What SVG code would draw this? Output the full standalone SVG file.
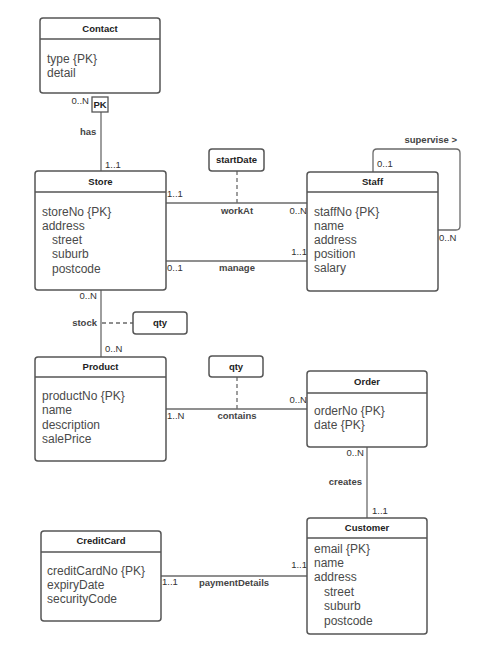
<svg xmlns="http://www.w3.org/2000/svg" width="494" height="645" viewBox="0 0 494 645">
<style>
.box{fill:#fff;stroke:#555;stroke-width:1.5}
.sep{stroke:#555;stroke-width:1.5}
.ln{fill:none;stroke:#6a6a6a;stroke-width:1.3}
.dash{fill:none;stroke:#6a6a6a;stroke-width:1.3;stroke-dasharray:4 3}
.t{font-family:"Liberation Sans",Arial,sans-serif;font-size:9.5px;font-weight:bold;fill:#222;text-anchor:middle}
.a{font-family:"Liberation Sans",Arial,sans-serif;font-size:12px;fill:#4a4a4a}
.c{font-family:"Liberation Sans",Arial,sans-serif;font-size:9.5px;fill:#333}
.r{font-family:"Liberation Sans",Arial,sans-serif;font-size:9.5px;font-weight:bold;fill:#444}
</style>
<rect width="494" height="645" fill="#fff"/>
<g id="connectors">
<path class="ln" d="M101 112 V171"/>
<path class="ln" d="M166 203 H307"/>
<path class="dash" d="M237 171 V203"/>
<path class="ln" d="M166 261 H307"/>
<path class="ln" d="M373 172 V153 Q373 149 377 149 H456 Q460 149 460 153 V226 Q460 230 456 230 H438"/>
<path class="ln" d="M101 290 V357"/>
<path class="dash" d="M102 323 H133"/>
<path class="ln" d="M166 409 H307"/>
<path class="dash" d="M237 377 V409"/>
<path class="ln" d="M367 447 V518"/>
<path class="ln" d="M161 576 H307"/>
<text class="c" x="89" y="104" text-anchor="end">0..N</text>
<text class="r" x="80" y="135">has</text>
<text class="c" x="105" y="168">1..1</text>
<text class="c" x="167" y="197">1..1</text>
<text class="r" x="237" y="214" text-anchor="middle">workAt</text>
<text class="c" x="307" y="214" text-anchor="end">0..N</text>
<text class="c" x="307" y="255" text-anchor="end">1..1</text>
<text class="c" x="167" y="271">0..1</text>
<text class="r" x="237" y="271" text-anchor="middle">manage</text>
<text class="r" x="457" y="143" text-anchor="end">supervise &gt;</text>
<text class="c" x="377" y="167">0..1</text>
<text class="c" x="439" y="241">0..N</text>
<text class="c" x="97" y="299" text-anchor="end">0..N</text>
<text class="r" x="97" y="326" text-anchor="end">stock</text>
<text class="c" x="105" y="352">0..N</text>
<text class="c" x="167" y="419">1..N</text>
<text class="r" x="237" y="419" text-anchor="middle">contains</text>
<text class="c" x="307" y="403" text-anchor="end">0..N</text>
<text class="c" x="364" y="456" text-anchor="end">0..N</text>
<text class="r" x="362" y="485" text-anchor="end">creates</text>
<text class="c" x="372" y="514">1..1</text>
<text class="c" x="307" y="568" text-anchor="end">1..1</text>
<text class="c" x="162" y="585">1..1</text>
<text class="r" x="234" y="586" text-anchor="middle">paymentDetails</text>
</g>
<g id="pk">
<rect x="92" y="97" width="16" height="15" fill="#fff" stroke="#555" stroke-width="1.3"/>
<text class="t" x="100" y="108">PK</text>
</g>
<g id="contact">
<rect class="box" x="40" y="18" width="120" height="75" rx="3"/>
<line class="sep" x1="40" y1="39" x2="160" y2="39"/>
<text class="t" x="100" y="32">Contact</text>
<text class="a" x="47" y="63">type {PK}</text>
<text class="a" x="47" y="77">detail</text>
</g>
<g id="startDate">
<rect class="box" x="209" y="149" width="55" height="22" rx="3"/>
<text class="t" x="236.500" y="163">startDate</text>
</g>
<g id="store">
<rect class="box" x="35" y="171" width="131" height="119" rx="3"/>
<line class="sep" x1="35" y1="192" x2="166" y2="192"/>
<text class="t" x="100.500" y="185">Store</text>
<text class="a" x="42" y="216">storeNo {PK}</text>
<text class="a" x="42" y="230">address</text>
<text class="a" x="52" y="244">street</text>
<text class="a" x="52" y="258">suburb</text>
<text class="a" x="52" y="273">postcode</text>
</g>
<g id="staff">
<rect class="box" x="307" y="172" width="131" height="119" rx="3"/>
<line class="sep" x1="307" y1="192" x2="438" y2="192"/>
<text class="t" x="372.500" y="185">Staff</text>
<text class="a" x="314" y="216">staffNo {PK}</text>
<text class="a" x="314" y="230">name</text>
<text class="a" x="314" y="244">address</text>
<text class="a" x="314" y="258">position</text>
<text class="a" x="314" y="272">salary</text>
</g>
<g id="qty1">
<rect class="box" x="133" y="312" width="54" height="22" rx="3"/>
<text class="t" x="160" y="326">qty</text>
</g>
<g id="product">
<rect class="box" x="35" y="357" width="131" height="104" rx="3"/>
<line class="sep" x1="35" y1="377" x2="166" y2="377"/>
<text class="t" x="100.500" y="370">Product</text>
<text class="a" x="42" y="400">productNo {PK}</text>
<text class="a" x="42" y="414">name</text>
<text class="a" x="42" y="429">description</text>
<text class="a" x="42" y="443">salePrice</text>
</g>
<g id="qty2">
<rect class="box" x="209" y="356" width="54" height="21" rx="3"/>
<text class="t" x="236" y="370">qty</text>
</g>
<g id="order">
<rect class="box" x="307" y="371" width="120" height="76" rx="3"/>
<line class="sep" x1="307" y1="393" x2="427" y2="393"/>
<text class="t" x="367" y="385">Order</text>
<text class="a" x="314" y="415">orderNo {PK}</text>
<text class="a" x="314" y="429">date {PK}</text>
</g>
<g id="customer">
<rect class="box" x="307" y="518" width="120" height="116" rx="3"/>
<line class="sep" x1="307" y1="538" x2="427" y2="538"/>
<text class="t" x="367" y="531">Customer</text>
<text class="a" x="314" y="553">email {PK}</text>
<text class="a" x="314" y="567">name</text>
<text class="a" x="314" y="581">address</text>
<text class="a" x="324" y="596">street</text>
<text class="a" x="324" y="610">suburb</text>
<text class="a" x="324" y="625">postcode</text>
</g>
<g id="creditCard">
<rect class="box" x="41" y="531" width="120" height="90" rx="3"/>
<line class="sep" x1="41" y1="552" x2="161" y2="552"/>
<text class="t" x="101" y="544">CreditCard</text>
<text class="a" x="47" y="575">creditCardNo {PK}</text>
<text class="a" x="47" y="589">expiryDate</text>
<text class="a" x="47" y="603">securityCode</text>
</g>
</svg>
